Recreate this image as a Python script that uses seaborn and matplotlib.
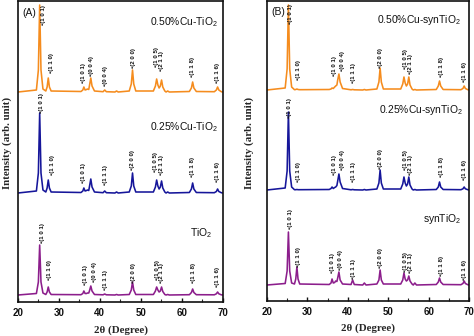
import numpy as np
import matplotlib
matplotlib.use("Agg")
import matplotlib.pyplot as plt
import seaborn as sns

sns.set_theme(style="ticks")
plt.rcParams['font.family'] = ['Liberation Sans', 'DejaVu Sans']
plt.rcParams['mathtext.fontset'] = 'custom'
plt.rcParams['mathtext.rm'] = 'Liberation Sans'
plt.rcParams['mathtext.it'] = 'Liberation Sans:italic'
plt.rcParams['mathtext.bf'] = 'Liberation Sans:bold'

# ---------------- data ----------------
two_theta = [20.0, 24.5, 24.98, 25.3, 25.62, 26.1, 26.8, 27.12, 27.4, 27.68, 28.1,
             35.4, 35.85, 36.1, 36.4, 36.75, 37.0, 37.3, 37.5, 37.8, 38.1, 38.7,
             40.8, 41.2, 41.6, 43.7, 44.1, 44.5, 47.2, 47.7, 48.0, 48.3, 48.8,
             53.1, 53.6, 53.9, 54.2, 54.5, 54.8, 55.1, 55.4, 55.9, 56.2, 56.6, 57.0,
             61.9, 62.4, 62.7, 63.0, 63.6, 68.0, 68.5, 68.8, 69.1, 69.7, 70.0]

# panel (A)
cu050_tio2 = [0, 2, 22, 87, 22, 3, 1, 5, 14, 5, 1, 0.5, 2, 5, 2, 2.5, 3, 2.5, 7, 14, 6, 1,
              0.3, 2, 0.3, 0, 1, 0, 1, 8, 22, 8, 1, 1, 6, 13, 7, 4, 6, 12, 5, 1, 0, 1, 0,
              0.5, 4, 10, 4, 0.5, 0.3, 2, 5, 2, 0.3, 0]
cu025_tio2 = [0, 2, 20, 80, 20, 3, 1, 5, 13, 5, 1, 0.5, 2, 5, 2, 2.5, 3, 2.5, 7, 14, 6, 1,
              0.3, 2, 0.3, 0, 1, 0, 1, 7, 20, 7, 1, 1, 6, 13, 7, 4, 6, 12, 5, 1, 0, 1, 0,
              0.5, 4, 10, 4, 0.5, 0.3, 1.5, 4, 1.5, 0.3, 0]
tio2 = [0, 1.5, 13, 50, 13, 2, 0.5, 3, 8, 3, 0.5, 0.3, 1.5, 4, 1.5, 1.5, 2, 2, 4.5, 9, 4, 0.5,
        0.2, 1, 0.2, 0, 0.5, 0, 0.5, 5, 13, 5, 0.5, 0.5, 4, 8, 5, 3, 4, 8, 3.5, 0.5, 0, 0.5, 0,
        0.3, 2.5, 6, 2.5, 0.3, 0.2, 1.2, 3, 1.2, 0.2, 0]

# panel (B)
cu050_syntio2 = [0, 2, 21, 85, 21, 3, 0.3, 0.5, 1, 0.5, 0.3, 0.5, 1, 2, 1.5, 3, 4, 5, 10, 16, 8, 1.5,
                 0.2, 0.5, 0.2, 0, 0.5, 0, 1, 8, 22, 8, 1, 1, 6, 13, 7, 4, 6, 13, 5, 1, 0, 0.5, 0,
                 0.5, 4, 9, 4, 0.5, 0.3, 1.5, 4, 1.5, 0.3, 0]
cu025_syntio2 = [0, 2, 19, 78, 19, 3, 0.3, 0.3, 0.5, 0.3, 0.3, 0.5, 1.5, 3, 1.5, 2.5, 3, 4.5, 9, 16, 8, 1.5,
                 0.2, 0.5, 0.2, 0, 0.5, 0, 1, 7, 20, 7, 1, 1, 6, 13, 7, 4, 6, 13, 5, 1, 0, 0.5, 0,
                 0.5, 3, 8, 3, 0.5, 0.3, 1.2, 3, 1.2, 0.3, 0]
syntio2 = [0, 1.5, 14, 53, 14, 2, 1, 6, 18, 6, 1, 0.5, 2, 6, 2, 2.5, 4, 3.5, 7, 13, 5, 1,
           0.5, 5, 0.5, 0, 2, 0, 1, 5, 15, 5, 1, 1, 5, 12, 6, 4, 5, 9, 4, 1, 0, 2, 0,
           0.5, 3, 7, 3, 0.5, 0.3, 1.5, 4, 1.5, 0.3, 0]

sample_names_a = ["0.50%Cu-TiO$_2$", "0.25%Cu-TiO$_2$", "TiO$_2$"]
sample_names_b = ["0.50%Cu-synTiO$_2$", "0.25%Cu-synTiO$_2$", "synTiO$_2$"]

# Miller-index annotations: names, 2theta of each tag, height of each tag above baseline
hkl_a_top = ["(1 0 1)", "(1 1 0)", "(1 0 1)", "(0 0 4)", "(0 0 4)", "(2 0 0)", "(1 0 5)", "(2 1 1)", "(1 1 8)", "(1 1 6)"]
hkl_a_top_x = [26.2, 28.2, 36.1, 38.0, 41.5, 48.3, 53.9, 55.1, 62.7, 68.8]
hkl_a_top_y = [67, 19, 9, 16, 6, 24, 25, 21, 15, 9]

hkl_a_mid = ["(1 0 1)", "(1 1 0)", "(1 0 1)", "(1 1 1)", "(2 0 0)", "(1 0 5)", "(2 1 1)", "(1 1 8)", "(1 1 6)"]
hkl_a_mid_x = [25.8, 28.5, 35.9, 41.5, 48.0, 53.7, 55.1, 62.7, 68.8]
hkl_a_mid_y = [80, 18, 10, 8, 23, 21, 18, 16, 11]

hkl_a_bot = ["(1 0 1)", "(1 1 0)", "(1 0 1)", "(0 0 4)", "(1 1 1)", "(2 0 0)", "(1 0 5)", "(2 1 1)", "(1 1 8)", "(1 1 6)"]
hkl_a_bot_x = [25.9, 27.8, 36.6, 38.8, 41.5, 48.3, 54.1, 55.1, 62.9, 68.8]
hkl_a_bot_y = [52, 15, 10, 13, 5, 12, 15, 12, 12, 8]

hkl_b = ["(1 0 1)", "(1 1 0)", "(1 0 1)", "(0 0 4)", "(1 1 1)", "(2 0 0)", "(1 0 5)", "(2 1 1)", "(1 1 8)", "(1 1 6)"]
hkl_b_top_x = [25.7, 27.9, 36.8, 38.6, 41.3, 48.2, 54.2, 55.6, 63.1, 68.8]
hkl_b_top_y = [66, 10, 14, 19, 7, 22, 21, 16, 13, 8]
hkl_b_mid_x = [25.6, 27.7, 36.6, 38.6, 41.3, 48.2, 54.2, 55.6, 63.1, 68.8]
hkl_b_mid_y = [72, 8, 15, 20, 8, 21, 20, 15, 13, 10]
hkl_b_bot_x = [25.7, 27.7, 36.3, 38.3, 41.3, 48.2, 54.2, 55.6, 63.1, 68.8]
hkl_b_bot_y = [56, 18, 12, 15, 6, 17, 13, 12, 9, 5]

x_ticks = [20, 30, 40, 50, 60, 70]
x_tick_labels = ["20", "30", "40", "50", "60", "70"]

# ---------------- layout / style ----------------
W, H = 474, 336
colors = ["#F58C1E", "#16169A", "#8C1E8C"]
offsets_a = [210, 109, 7]
offsets_b = [211, 111, 16]

fig = plt.figure(figsize=(W / 100, H / 100), dpi=100)
fig.patch.set_facecolor("white")


def px_axes(left, top, right, bottom):
    return fig.add_axes([left / W, 1 - bottom / H, (right - left) / W, (bottom - top) / H])


axA = px_axes(18, 1, 222.5, 302)
axB = px_axes(267, 1, 469, 301)

series_a = [cu050_tio2, cu025_tio2, tio2]
series_b = [cu050_syntio2, cu025_syntio2, syntio2]
tags_a = [(hkl_a_top, hkl_a_top_x, hkl_a_top_y),
          (hkl_a_mid, hkl_a_mid_x, hkl_a_mid_y),
          (hkl_a_bot, hkl_a_bot_x, hkl_a_bot_y)]
tags_b = [(hkl_b, hkl_b_top_x, hkl_b_top_y),
          (hkl_b, hkl_b_mid_x, hkl_b_mid_y),
          (hkl_b, hkl_b_bot_x, hkl_b_bot_y)]

name_pos_a = [(68.8, 280), (68.8, 175), (67.6, 69)]
name_pos_b = [(68.0, 281), (68.4, 191), (68.0, 82)]

for ax, series, offsets, tags, names, name_pos, ytop, letter in [
        (axA, series_a, offsets_a, tags_a, sample_names_a, name_pos_a, 301, "(A)"),
        (axB, series_b, offsets_b, tags_b, sample_names_b, name_pos_b, 300, "(B)")]:
    for vals, off, col, (hkls, hx, hy), name, (nx, ny) in zip(
            series, offsets, colors, tags, names, name_pos):
        y = np.asarray(vals, dtype=float) + off
        sns.lineplot(x=two_theta, y=y, ax=ax, color=col, linewidth=1.15,
                     sort=False, estimator=None)
        for lab, lx, ly in zip(hkls, hx, hy):
            ax.text(lx, off + ly, "\u2022" + lab, rotation=90, ha="center", va="bottom",
                    fontsize=4.4, fontweight="bold", color="#111111")
        ax.text(nx, ny, name, ha="right", va="center", fontsize=7.4, color="#111111")
    ax.text(21.0, 289, letter, ha="left", va="center", fontsize=7.4, color="#111111")

    ax.set_xlim(20, 70)
    ax.set_ylim(0, ytop)
    ax.set_yticks([])
    ax.set_xticks(x_ticks)
    ax.set_xticklabels(x_tick_labels, fontweight="bold", fontsize=7)
    ax.set_xticks([25, 35, 45, 55, 65], minor=True)
    ax.tick_params(axis="x", which="major", direction="in", length=3, width=1,
                   pad=4, colors="#111111")
    ax.tick_params(axis="x", which="minor", direction="in", length=2, width=0.8)
    ax.set_xlabel("")
    ax.set_ylabel("")
    for sp in ax.spines.values():
        sp.set_visible(True)
        sp.set_color("#111111")
        sp.set_linewidth(1.2)

serif = ["Liberation Serif", "DejaVu Serif"]
for xpx in (7, 249):
    fig.text(xpx / W, 1 - 143 / H, "Intensity (arb. unit)", rotation=90, ha="center",
             va="center", fontsize=7.8, fontweight="bold", family=serif)
for xpx, ypx in ((120.5, 330), (368, 328)):
    fig.text(xpx / W, 1 - ypx / H, "2\u03b8 (Degree)", ha="center", va="center",
             fontsize=7.8, fontweight="bold", family=serif)

fig.savefig("out.png", dpi=100, facecolor="white")
